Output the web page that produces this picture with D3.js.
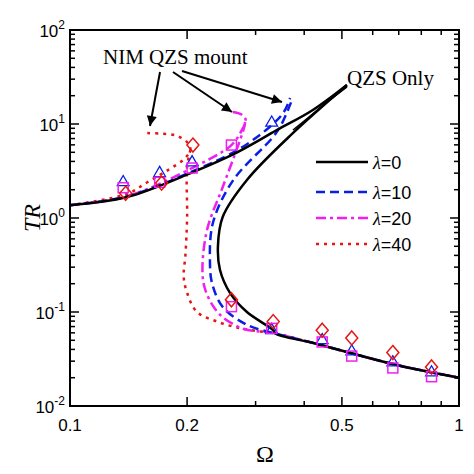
<!DOCTYPE html><html><head><script src="https://cdn.jsdelivr.net/npm/d3@7"></script>
<style>body{margin:0;background:#fff}</style></head><body><svg id="c" width="474" height="474"></svg>
<script>
const tail=[[0.337,0.059],[0.42,0.047],[0.515,0.0375],[0.7,0.027],[1.0,0.02]];
const black_up=[[0.1,1.37],[0.14,1.67],[0.207,3.08],[0.269,5.0],[0.34,8.6],[0.42,14],[0.515,26]];
const black_low=[[0.515,26],[0.374,8.0],[0.285,2.54],[0.247,1.03],[0.24,0.49],[0.243,0.28],[0.258,0.159],[0.285,0.1],[0.333,0.064]];
const blue_up=[[0.1,1.37],[0.14,1.69],[0.207,3.15],[0.27,5.3],[0.326,9.3],[0.355,13.5],[0.368,18.9]];
const blue_low=[[0.37,17],[0.35,10],[0.333,7.3],[0.263,2.54],[0.233,0.885],[0.229,0.33],[0.232,0.2],[0.247,0.113],[0.285,0.073],[0.326,0.061]];
const mag_up=[[0.1,1.37],[0.14,1.7],[0.206,3.4],[0.26,5.97],[0.276,8.5],[0.283,11],[0.276,12.6],[0.262,13.4]];
const mag_low=[[0.282,10.5],[0.28,9.0],[0.268,5.3],[0.247,2.14],[0.225,0.745],[0.219,0.28],[0.222,0.18],[0.232,0.12],[0.247,0.088],[0.28,0.066],[0.32,0.061]];
const red_up=[[0.1,1.37],[0.14,1.8],[0.158,2.4],[0.18,3.3],[0.196,4.2],[0.204,5.3],[0.2,6.4],[0.188,7.5],[0.172,7.9],[0.158,8.0]];
const red_low=[[0.204,5.3],[0.2,3.5],[0.2,1.02],[0.198,0.4],[0.196,0.24],[0.2,0.16],[0.212,0.1],[0.239,0.079],[0.27,0.068],[0.3,0.063]];
const tri=[[0.137,2.4],[0.17,3.0],[0.206,3.9],[0.33,10.3],[0.33,0.064],[0.445,0.05],[0.53,0.038],[0.676,0.029],[0.85,0.0227]];
const sq=[[0.137,2.1],[0.17,2.4],[0.206,3.4],[0.26,5.97],[0.26,0.114],[0.33,0.067],[0.445,0.048],[0.53,0.034],[0.676,0.0254],[0.85,0.0205]];
const dia=[[0.139,1.83],[0.172,2.35],[0.207,5.97],[0.26,0.135],[0.333,0.079],[0.445,0.064],[0.53,0.053],[0.676,0.037],[0.85,0.026]];
const lambdas=["0","10","20","40"];
const xTicks=[0.1,0.2,0.5,1];
const yExp=[-2,-1,0,1,2];

const svg=d3.select("#c");
const L=70,R=459,T=30,B=406;
const x=d3.scaleLog().domain([0.1,1]).range([L,R]);
const y=d3.scaleLog().domain([0.01,100]).range([B,T]);
const line=d3.line().x(d=>x(d[0])).y(d=>y(d[1])).curve(d3.curveCatmullRom.alpha(0.5));
const g=svg.append("g");
g.append("clipPath").attr("id","cp").append("rect").attr("x",L).attr("y",T).attr("width",R-L).attr("height",B-T);
const st=[{c:"#000",d:null,w:2.5},{c:"#0a1ee6",d:"9,5",w:2.5},{c:"#f01ef0",d:"10,4,3,4",w:2.5},{c:"#e61414",d:"3,5",w:2.5}];
const series=[[black_up,black_low.concat(tail)],[blue_up,blue_low.concat(tail)],[mag_up,mag_low.concat(tail)],[red_up,red_low.concat(tail)]];
const cg=g.append("g").attr("clip-path","url(#cp)");
[3,2,1,0].forEach(i=>series[i].forEach(p=>cg.append("path").attr("d",line(p)).attr("fill","none").attr("stroke",st[i].c).attr("stroke-width",st[i].w).attr("stroke-dasharray",st[i].d)));
tri.forEach(d=>g.append("path").attr("d",d3.symbol(d3.symbolTriangle,60)()).attr("transform",`translate(${x(d[0])},${y(d[1])})`).attr("fill","none").attr("stroke","#0a1ee6").attr("stroke-width",1.3));
sq.forEach(d=>g.append("rect").attr("x",x(d[0])-5).attr("y",y(d[1])-5).attr("width",10).attr("height",10).attr("fill","none").attr("stroke","#f01ef0").attr("stroke-width",1.5));
dia.forEach(d=>g.append("path").attr("d","M0,-7L6,0L0,7L-6,0Z").attr("transform",`translate(${x(d[0])},${y(d[1])})`).attr("fill","none").attr("stroke","#e61414").attr("stroke-width",1.5));
g.append("rect").attr("x",L).attr("y",T).attr("width",R-L).attr("height",B-T).attr("fill","none").attr("stroke","#000").attr("stroke-width",2);
const xt=[];for(let k=1;k<=10;k++)xt.push(k/10);
xt.forEach(v=>{const maj=xTicks.includes(v),len=maj?9:5;
 g.append("line").attr("x1",x(v)).attr("x2",x(v)).attr("y1",B).attr("y2",B-len).attr("stroke","#000").attr("stroke-width",1.5);
 g.append("line").attr("x1",x(v)).attr("x2",x(v)).attr("y1",T).attr("y2",T+len).attr("stroke","#000").attr("stroke-width",1.5);});
yExp.forEach(e=>{for(let k=1;k<=9;k++){const v=k*Math.pow(10,e);if(v>100)break;const len=k==1?9:5;
 g.append("line").attr("x1",L).attr("x2",L+len).attr("y1",y(v)).attr("y2",y(v)).attr("stroke","#000").attr("stroke-width",1.5);
 g.append("line").attr("x1",R).attr("x2",R-len).attr("y1",y(v)).attr("y2",y(v)).attr("stroke","#000").attr("stroke-width",1.5);}});
xTicks.forEach(v=>g.append("text").attr("x",x(v)).attr("y",B+25).attr("text-anchor","middle").attr("font-family","Arial,Liberation Sans").attr("font-size",17).text(v));
yExp.forEach(e=>{const t=g.append("text").attr("x",L-5).attr("y",y(Math.pow(10,e))+7).attr("text-anchor","end").attr("font-family","Arial,Liberation Sans").attr("font-size",17);
 t.append("tspan").text("10");t.append("tspan").attr("dy",-8).attr("font-size",12).text(e);});
g.append("text").attr("transform","translate(40,218) rotate(-90)").attr("text-anchor","middle").attr("font-family","Liberation Serif,Times New Roman").attr("font-style","italic").attr("font-size",24).text("TR");
g.append("text").attr("x",265).attr("y",462).attr("text-anchor","middle").attr("font-family","Liberation Serif").attr("font-size",24).text("Ω");
lambdas.forEach((l,i)=>{const yy=[162,192,218,244][i];
 g.append("line").attr("x1",316).attr("x2",368).attr("y1",yy).attr("y2",yy).attr("stroke",st[i].c).attr("stroke-width",2.5).attr("stroke-dasharray",st[i].d);
 const t=g.append("text").attr("x",373).attr("y",yy+7).attr("font-family","Arial,Liberation Sans").attr("font-size",18);
 t.append("tspan").attr("font-family","Liberation Serif").attr("font-style","italic").text("λ");t.append("tspan").text("="+l);});
svg.append("defs").append("marker").attr("id","ah").attr("viewBox","0 0 10 10").attr("refX",10).attr("refY",5).attr("markerWidth",6).attr("markerHeight",5).attr("orient","auto").attr("markerUnits","strokeWidth").append("path").attr("d","M0,0L10,5L0,10Z").attr("fill","#000");
g.append("text").attr("x",103).attr("y",64).attr("font-family","Liberation Serif").attr("font-size",21).text("NIM QZS mount");
g.append("text").attr("x",347).attr("y",85).attr("font-family","Liberation Serif").attr("font-size",21).text("QZS Only");
[[[160,72],[150,126]],[[173,72],[232,112]],[[182,71],[282,102]]].forEach(a=>g.append("line").attr("x1",a[0][0]).attr("y1",a[0][1]).attr("x2",a[1][0]).attr("y2",a[1][1]).attr("stroke","#000").attr("stroke-width",2).attr("marker-end","url(#ah)"));
[[[347,86],[293,130]],[[347,87],[330,100]]].forEach(a=>g.append("line").attr("x1",a[0][0]).attr("y1",a[0][1]).attr("x2",a[1][0]).attr("y2",a[1][1]).attr("stroke","#000").attr("stroke-width",1.5));
</script></body></html>
